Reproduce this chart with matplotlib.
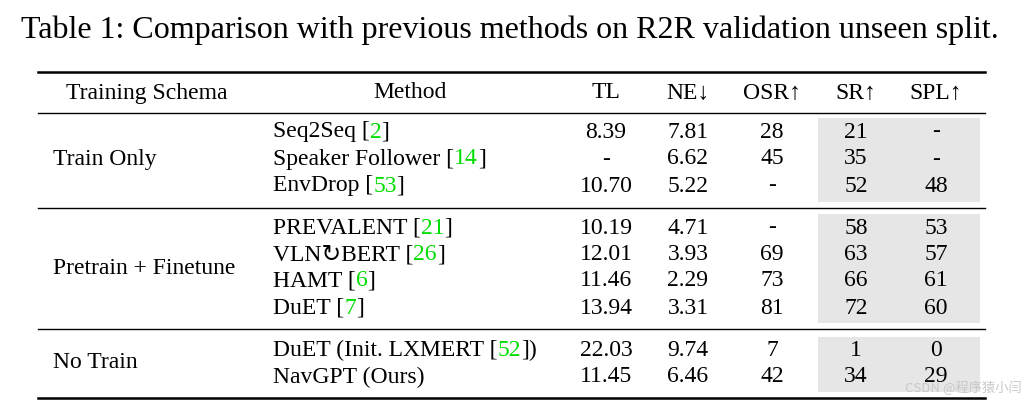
import matplotlib
matplotlib.use("Agg")
import matplotlib.pyplot as plt
from matplotlib.patches import Rectangle

title = "Table 1: Comparison with previous methods on R2R validation unseen split."
headers = ["Training Schema", "Method", "TL", "NE↓", "OSR↑", "SR↑", "SPL↑"]
groups = ["Train Only", "Pretrain + Finetune", "No Train"]
methods = [
    [("Seq2Seq [", "2", "]"), ("Speaker Follower [", "14", "]"), ("EnvDrop [", "53", "]")],
    [("PREVALENT [", "21", "]"), ("VLN↻BERT [", "26", "]"), ("HAMT [", "6", "]"), ("DuET [", "7", "]")],
    [("DuET (Init. LXMERT [", "52", "])"), ("NavGPT (Ours)", "", "")],
]
TL = [["8.39", "-", "10.70"], ["10.19", "12.01", "11.46", "13.94"], ["22.03", "11.45"]]
NE = [["7.81", "6.62", "5.22"], ["4.71", "3.93", "2.29", "3.31"], ["9.74", "6.46"]]
OSR = [["28", "45", "-"], ["-", "69", "73", "81"], ["7", "42"]]
SR = [["21", "35", "52"], ["58", "63", "66", "72"], ["1", "34"]]
SPL = [["-", "-", "48"], ["53", "57", "61", "60"], ["0", "29"]]

fig = plt.figure(figsize=(10.33, 4.08), dpi=100)
ax = fig.add_axes([0, 0, 1, 1])
ax.set_xlim(0, 1033); ax.set_ylim(408, 0); ax.axis("off")
serif = ["Liberation Serif", "DejaVu Serif"]
fs = 17
ax.text(510, 30, title, ha="center", va="center", fontsize=23, family=serif)

ax.plot([38, 985], [72, 72], color="k", lw=1.8)
ax.plot([38, 985], [113, 113], color="k", lw=1)
ax.plot([38, 985], [208, 208], color="k", lw=1)
ax.plot([38, 985], [329, 329], color="k", lw=1)
ax.plot([38, 985], [398, 398], color="k", lw=1.8)

hx = [147, 410, 606, 688, 772, 856, 936]
for x, h in zip(hx, headers):
    ax.text(x, 93, h, ha="center", va="center", fontsize=fs, family=serif)

row_ys = [[132, 159, 186], [228, 255, 281, 308], [350, 377]]
group_y = [160, 268, 363]
boxes = [(118, 202), (214, 323), (337, 392)]
fig.canvas.draw()
r = fig.canvas.get_renderer()
for g in range(3):
    y0, y1 = boxes[g]
    ax.add_patch(Rectangle((818, y0), 162, y1 - y0, color="#e6e6e6", lw=0, zorder=0))
    ax.text(53, group_y[g], groups[g], ha="left", va="center", fontsize=fs, family=serif)
    for i, y in enumerate(row_ys[g]):
        x = 273
        for k, part in enumerate(methods[g][i]):
            if not part:
                continue
            t = ax.text(x, y, part, ha="left", va="center", fontsize=fs,
                        family=["Liberation Serif", "DejaVu Sans"],
                        color="#00dd00" if k == 1 else "k")
            bb = t.get_window_extent(r)
            x += bb.width
        for cx, col in zip(hx[2:], [TL, NE, OSR, SR, SPL]):
            ax.text(cx, y, col[g][i], ha="center", va="center", fontsize=fs, family=serif)

ax.text(1022, 388, "CSDN @程序猿小闫", ha="right", va="center", fontsize=9.5,
        color="#c8c8c8", family=["Noto Sans CJK SC", "DejaVu Sans"], zorder=5)
fig.savefig("out.png", dpi=100)
